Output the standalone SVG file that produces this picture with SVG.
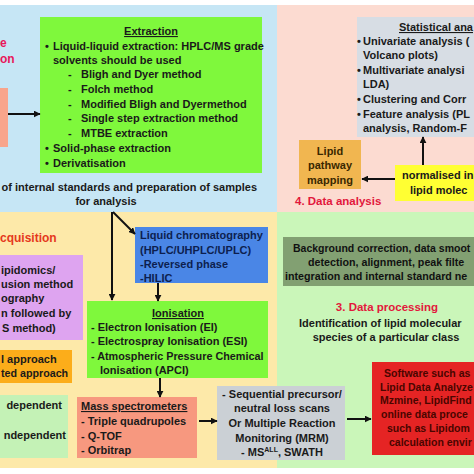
<svg xmlns="http://www.w3.org/2000/svg" width="474" height="474" viewBox="0 0 474 474">
<defs>
<style>
text{font-family:"Liberation Sans",Arial,sans-serif;font-weight:bold;font-size:11px;fill:#1a1a1a}
.t{fill:#e2183c;font-size:11.5px}
.ta{fill:#e5381c;font-size:12px}
.u{text-decoration:underline}
.m{text-anchor:middle}
.e{text-anchor:end}
.lc{fill:#0d1f4f}
.rd{fill:#4a0600;font-size:10.5px}
.bg{fill:#111;font-size:10.7px}
.conn line{stroke:#111;stroke-width:2;marker-end:url(#ah)}
</style>
<marker id="ah" viewBox="0 0 10 10" refX="9" refY="5" markerWidth="7" markerHeight="7" markerUnits="userSpaceOnUse" orient="auto"><path d="M0,0 L10,5 L0,10 z" fill="#111"/></marker>
</defs>
<rect width="474" height="474" fill="#ffffff"/>
<g id="regions">
<rect x="0" y="5" width="277" height="207" fill="#c6e6f5"/>
<rect x="277" y="5" width="197" height="207" fill="#fcdbd1"/>
<rect x="0" y="212" width="277" height="256" fill="#fde9a9"/>
<rect x="277" y="212" width="197" height="256" fill="#caf6b9"/>
</g>
<g id="section1">
<text class="t" x="0" y="47" style="fill:#e8175a;font-size:12px">e</text>
<text class="t" x="0" y="63" style="fill:#e8175a;font-size:12px">on</text>
<text x="257" y="191" class="e">of internal standards and preparation of samples</text>
<text x="106" y="205" class="m">for analysis</text>
</g>
<g id="sample-box"><rect x="0" y="88" width="8" height="59" fill="#f8a58c"/></g>
<g id="extraction">
<rect x="40" y="17" width="222" height="156" fill="#7ff83c"/>
<text x="151" y="35" class="m u">Extraction</text>
<text x="45" y="50">•</text><text x="53" y="50">Liquid-liquid extraction: HPLC/MS grade</text>
<text x="53" y="64">solvents should be used</text>
<text x="68" y="78">-</text><text x="81" y="78">Bligh and Dyer method</text>
<text x="68" y="93">-</text><text x="81" y="93">Folch method</text>
<text x="68" y="108">-</text><text x="81" y="108">Modified Bligh and Dyermethod</text>
<text x="68" y="122">-</text><text x="81" y="122">Single step extraction method</text>
<text x="68" y="137">-</text><text x="81" y="137">MTBE extraction</text>
<text x="45" y="152">•</text><text x="53" y="152">Solid-phase extraction</text>
<text x="45" y="167">•</text><text x="53" y="167">Derivatisation</text>
</g>
<g id="statistical">
<rect x="357" y="17" width="117" height="120" fill="#d7dde4"/>
<text x="399" y="31" class="u">Statistical ana</text>
<text x="357" y="45">•</text><text x="363" y="45">Univariate analysis (</text>
<text x="363" y="59">Volcano plots)</text>
<text x="357" y="74">•</text><text x="363" y="74">Multivariate analysi</text>
<text x="363" y="88">LDA)</text>
<text x="357" y="103">•</text><text x="363" y="103">Clustering and Corr</text>
<text x="357" y="118">•</text><text x="363" y="118">Feature analysis (PL</text>
<text x="363" y="132">analysis, Random-F</text>
</g>
<g id="lipid-pathway">
<rect x="299" y="140" width="62" height="49" fill="#f1b650"/>
<text x="330" y="155" class="m" style="fill:#3a2800">Lipid</text>
<text x="330" y="169" class="m" style="fill:#3a2800">pathway</text>
<text x="330" y="184" class="m" style="fill:#3a2800">mapping</text>
</g>
<g id="normalised">
<rect x="395" y="165" width="79" height="36" fill="#ffff33"/>
<text x="402" y="179">normalised in</text>
<text x="410" y="194">lipid molec</text>
</g>
<g id="title4"><text class="t" x="295" y="205">4. Data analysis</text></g>
<g id="title2"><text class="ta" x="0" y="242">cquisition</text></g>
<g id="lc-ms">
<rect x="0" y="255" width="83" height="85" fill="#dea4f0"/>
<text x="1" y="274">ipidomics/</text>
<text x="1" y="288">usion method</text>
<text x="1" y="302">ography</text>
<text x="1" y="317">n followed by</text>
<text x="2" y="332">S method)</text>
</g>
<g id="lc">
<rect x="135" y="227" width="133" height="56" fill="#4a86e6"/>
<text x="140" y="239" class="lc">Liquid chromatography</text>
<text x="140" y="254" class="lc">(HPLC/UHPLC/UPLC)</text>
<text x="140" y="268" class="lc">-Reversed phase</text>
<text x="140" y="282" class="lc">-HILIC</text>
</g>
<g id="ionisation">
<rect x="87" y="301" width="181" height="77" fill="#7ff83c"/>
<text x="178" y="317" class="m u">Ionisation</text>
<text x="91" y="331">- Electron Ionisation (EI)</text>
<text x="91" y="345">- Electrospray Ionisation (ESI)</text>
<text x="91" y="360" style="font-size:10.8px">- Atmospheric Pressure Chemical</text>
<text x="100" y="374">Ionisation (APCI)</text>
</g>
<g id="approach">
<rect x="0" y="350" width="72" height="33" fill="#fcad1a"/>
<text x="1" y="363">l approach</text>
<text x="1" y="377" style="font-size:10.7px">ted approach</text>
</g>
<g id="acquisition-mode">
<rect x="0" y="395" width="68" height="63" fill="#c4f2b6"/>
<text x="62" y="409" class="e">dependent</text>
<text x="66" y="439" class="e">ndependent</text>
</g>
<g id="mass-spec">
<rect x="77" y="397" width="120" height="61" fill="#f7987f"/>
<text x="81" y="410" class="u">Mass spectrometers</text>
<text x="81" y="425">- Triple quadrupoles</text>
<text x="81" y="440">- Q-TOF</text>
<text x="81" y="454">- Orbitrap</text>
</g>
<g id="mrm">
<rect x="217" y="386" width="128" height="74" fill="#cbd0d5"/>
<text x="282" y="398" class="m">- Sequential precursor/</text>
<text x="282" y="412" class="m">neutral loss scans</text>
<text x="282" y="427" class="m">Or Multiple Reaction</text>
<text x="282" y="442" class="m">Monitoring (MRM)</text>
<text x="282" y="456" class="m">- MS<tspan font-size="7" dy="-4">ALL</tspan><tspan dy="4">, SWATH</tspan></text>
</g>
<g id="preprocessing">
<rect x="283" y="237" width="191" height="49" fill="#82a072"/>
<text x="293" y="252" class="bg" style="font-size:10.5px">Background correction, data smoot</text>
<text x="308" y="266" class="bg">detection, alignment, peak filte</text>
<text x="285" y="280" class="bg">integration and internal standard ne</text>
</g>
<g id="title3">
<text class="t m" x="387" y="311">3. Data processing</text>
<text x="299" y="327">Identification of lipid molecular</text>
<text x="386" y="341" class="m">species of a particular class</text>
</g>
<g id="software">
<rect x="372" y="362" width="102" height="93" fill="#e52424"/>
<text x="384" y="377" class="rd">Software such as</text>
<text x="380" y="391" class="rd">Lipid Data Analyze</text>
<text x="380" y="404" class="rd">Mzmine, LipidFind</text>
<text x="381" y="418" class="rd">online data proce</text>
<text x="387" y="432" class="rd">such as Lipidom</text>
<text x="389" y="446" class="rd">calculation envir</text>
</g>
<g id="connectors" class="conn">
<line x1="8" y1="114" x2="40" y2="114"/>
<line x1="112" y1="212" x2="112" y2="300"/>
<line x1="113" y1="212" x2="135" y2="234"/>
<line x1="158" y1="283" x2="158" y2="301"/>
<line x1="160" y1="378" x2="160" y2="397"/>
<line x1="199" y1="421" x2="217" y2="421"/>
<line x1="347" y1="419" x2="371" y2="419"/>
<line x1="395" y1="179" x2="362" y2="179"/>
<line x1="423" y1="165" x2="423" y2="137"/>
</g>
</svg>
